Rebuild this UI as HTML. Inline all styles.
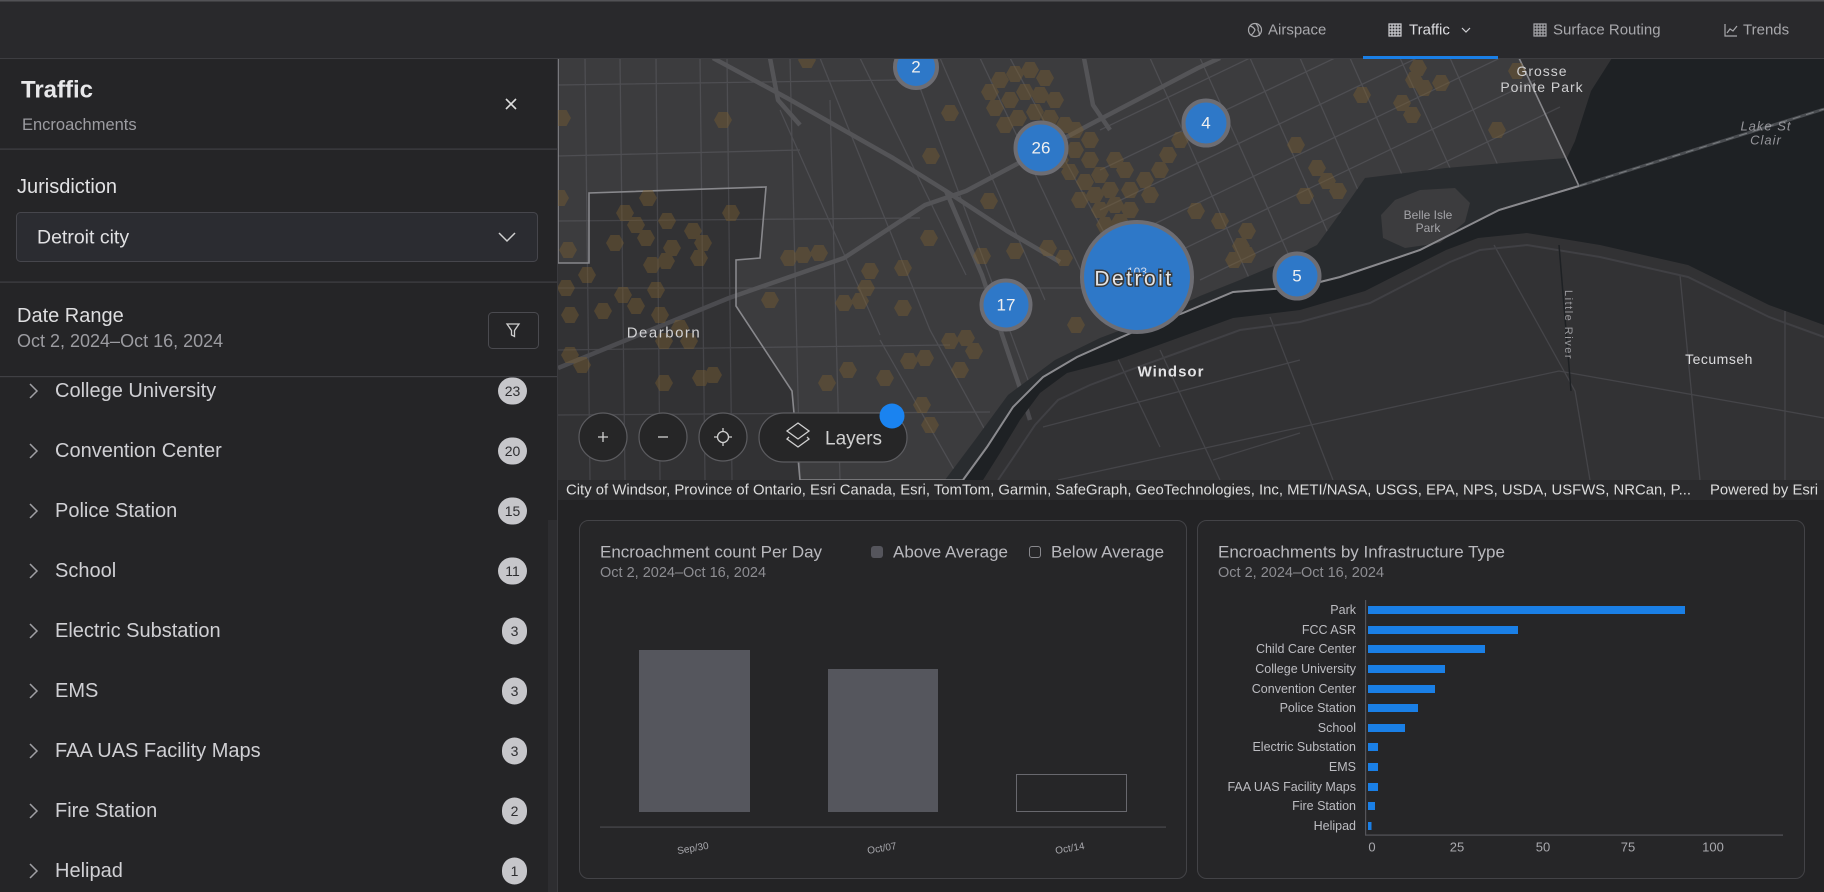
<!DOCTYPE html>
<html><head><meta charset="utf-8"><style>
*{margin:0;padding:0;box-sizing:border-box}
body{width:1824px;height:892px;overflow:hidden;background:#232325;font-family:"Liberation Sans",sans-serif;position:relative}
svg{position:absolute;left:0;top:0}
</style></head><body>
<svg width="1824" height="892" viewBox="0 0 1824 892" font-family="'Liberation Sans', sans-serif">
<defs>
<clipPath id="mc"><rect x="558" y="59" width="1266" height="421"/></clipPath>
<path id="hx" d="M-9,0 L-4.5,-8 L4.5,-8 L9,0 L4.5,8 L-4.5,8 Z"/>
</defs>
<rect width="1824" height="892" fill="#232325"/>
<!-- NAV -->
<rect x="0" y="0" width="1824" height="58" fill="#29292c"/>
<rect x="0" y="0" width="1824" height="1.5" fill="#525256"/>
<rect x="0" y="58" width="1824" height="1" fill="#3d3d41"/>
<g fill="none" stroke="#a8a8ac" stroke-width="1.2">
<circle cx="1255" cy="30" r="6.5"/>
<path d="M1250,26 Q1254,27 1255,30 Q1253,34 1251,35 M1256,24 Q1259,27 1258,30 Q1260,33 1259,36"/>
<path d="M1389,24 h12 v12 h-12 z M1392,24 v12 M1395,24 v12 M1398,24 v12 M1389,27 h12 M1389,30 h12 M1389,33 h12" stroke="#d0d0d4"/>
<path d="M1462,28 L1466,32 L1470,28" stroke="#d0d0d4"/>
<path d="M1534,24 h12 v12 h-12 z M1537,24 v12 M1540,24 v12 M1543,24 v12 M1534,27 h12 M1534,30 h12 M1534,33 h12"/>
<path d="M1725,24 V36 H1737 M1727,33 L1730,29 L1733,31 L1737,26"/>
</g>
<g font-size="15" fill="#a8a8ac" dominant-baseline="central">
<text x="1268" y="30">Airspace</text>
<text x="1409" y="30" fill="#dcdce0">Traffic</text>
<text x="1553" y="30">Surface Routing</text>
<text x="1743" y="30">Trends</text>
</g>
<rect x="1363" y="56" width="135" height="3" fill="#1a7fe6"/>

<!-- LEFT PANEL -->
<rect x="0" y="59" width="557" height="833" fill="#252527"/>
<rect x="557" y="59" width="1" height="833" fill="#3a3a3e"/>
<g dominant-baseline="central">
<text x="21" y="90" font-size="24" font-weight="bold" fill="#e8e8ea">Traffic</text>
<text x="22" y="125" font-size="16.5" fill="#9c9ca1">Encroachments</text>
<text x="17" y="187" font-size="20" fill="#e2e2e4">Jurisdiction</text>
<text x="17" y="316" font-size="20" fill="#dedee0">Date Range</text>
<text x="17" y="341" font-size="18" fill="#9c9ca1">Oct 2, 2024–Oct 16, 2024</text>
</g>
<path d="M506,99 L516,109 M516,99 L506,109" stroke="#dedede" stroke-width="1.6"/>
<rect x="0" y="148.5" width="557" height="1.2" fill="#404044"/>
<rect x="16.5" y="212.5" width="521" height="49" rx="4" fill="#2b2c31" stroke="#46464c"/>
<text x="37" y="237.5" font-size="19.5" fill="#e0e0e2" dominant-baseline="central">Detroit city</text>
<path d="M499,233 L507,241 L515,233" fill="none" stroke="#d0d0d0" stroke-width="1.5"/>
<rect x="0" y="281.5" width="557" height="1.2" fill="#404044"/>
<rect x="488.5" y="312.5" width="50" height="36" rx="4" fill="none" stroke="#4a4a4f"/>
<path d="M507,324 H519 L514.5,330.5 V336.5 L511.5,335 V330.5 Z" fill="none" stroke="#d0d0d0" stroke-width="1.3"/>
<rect x="0" y="376" width="557" height="1.2" fill="#404044"/>
<rect x="548" y="520" width="9" height="372" fill="#2d2d30"/>
<g fill="none" stroke="#a0a0a4" stroke-width="1.5">
<path d="M30,384 L37,391 L30,398"/><path d="M30,444 L37,451 L30,458"/><path d="M30,504 L37,511 L30,518"/>
<path d="M30,564 L37,571 L30,578"/><path d="M30,624 L37,631 L30,638"/><path d="M30,684 L37,691 L30,698"/>
<path d="M30,744 L37,751 L30,758"/><path d="M30,804 L37,811 L30,818"/><path d="M30,864 L37,871 L30,878"/>
</g>
<g font-size="20" fill="#d0d0d4" dominant-baseline="central">
<text x="55" y="391">College University</text>
<text x="55" y="451">Convention Center</text>
<text x="55" y="511">Police Station</text>
<text x="55" y="571">School</text>
<text x="55" y="631">Electric Substation</text>
<text x="55" y="691">EMS</text>
<text x="55" y="751">FAA UAS Facility Maps</text>
<text x="55" y="811">Fire Station</text>
<text x="55" y="871">Helipad</text>
</g>
<g fill="#c6c6ca">
<rect x="498" y="377.5" width="29" height="27" rx="13.5"/>
<rect x="498" y="437.5" width="29" height="27" rx="13.5"/>
<rect x="498" y="497.5" width="29" height="27" rx="13.5"/>
<rect x="498" y="557.5" width="29" height="27" rx="13.5"/>
<rect x="502" y="617.5" width="25" height="27" rx="12.5"/>
<rect x="502" y="677.5" width="25" height="27" rx="12.5"/>
<rect x="502" y="737.5" width="25" height="27" rx="12.5"/>
<rect x="502" y="797.5" width="25" height="27" rx="12.5"/>
<rect x="502" y="857.5" width="25" height="27" rx="12.5"/>
</g>
<g font-size="14" fill="#2d2d30" text-anchor="middle" dominant-baseline="central">
<text x="512.5" y="391">23</text><text x="512.5" y="451">20</text><text x="512.5" y="511">15</text><text x="512.5" y="571">11</text>
<text x="514.5" y="631">3</text><text x="514.5" y="691">3</text><text x="514.5" y="751">3</text><text x="514.5" y="811">2</text><text x="514.5" y="871">1</text>
</g>

<!-- MAP -->
<g clip-path="url(#mc)">
<rect x="558" y="59" width="1266" height="421" fill="#323234"/>
<g stroke="#454549" stroke-width="1.3" fill="none">
<path d="M585,58 L590,480 M620,58 L625,480 M656,58 L660,480 M700,58 L705,480 M727,58 L732,480 M790,58 L800,480 M830,100 L840,480
M558,85 L900,80 M558,156 L800,150 M558,221 L920,218 M558,288 L1100,288 M558,350 L950,345 M558,415 L990,412
M860,58 L966,275 M909,58 L1031,388 M940,58 L1045,300 M980,58 L1090,290 M1010,58 L1120,262 M820,58 L930,330 M780,110 L880,335 M880,340 L960,480 M930,330 L985,430
M1100,130 L1250,58 M1100,170 L1335,58 M1100,210 L1417,58 M1100,250 L1500,58 M1150,265 L1535,80 M1200,280 L1560,107
M1150,58 L1250,280 M1200,58 L1300,280 M1250,58 L1340,260 M1300,58 L1380,240 M1350,58 L1420,215 M1400,58 L1460,190 M1450,58 L1500,170
M1270,317 L1333,480 M1494,245 L1575,391 L1590,480 M1117,357 L1160,447 M1160,350 L1220,480 M1043,427 L1300,360 M1213,460 L1300,433 M1058,480 L1559,371 L1824,418 M1785,311 L1785,480 M1680,275 L1700,480"/>
</g>
<g stroke="#4b4b4f" stroke-width="4.5" fill="none" stroke-linejoin="round">
<path d="M713,58 L787,98 L893,158 L946,191 L1007,231 L1060,262"/>
<path d="M558,368 L729,298 L844,258 L925,205 L966,191 L1015,165 L1089,125 L1198,68 L1220,58"/>
<path d="M946,191 L982,275 L1020,388 L1030,420"/>
<path d="M1084,58 L1093,105 L1110,130"/>
<path d="M770,58 L778,100 L800,125"/>
</g>
<polygon fill="#1e2124" points="1612,58 1824,58 1824,325 1769,305 1688,265 1600,245 1527,233 1478,238 1446,250 1365,291 1300,310 1233,318 1167,342 1117,360 1067,373 1040,393 1020,420 1000,453 983,480 945,480 975,440 1008,395 1055,360 1100,338 1153,318 1200,296 1240,280 1283,262 1317,245 1349,201 1365,178 1446,168 1527,161 1567,158 1575,141 1591,91"/>
<polyline fill="none" stroke="#404044" stroke-width="2" points="998,480 1015,455 1035,425 1058,400 1090,385 1130,370 1180,352 1240,330 1300,322 1370,303 1450,262 1480,250 1527,245 1600,257 1688,277 1769,317 1824,337"/>
<path d="M1559,245 L1571,391" stroke="#1e2124" stroke-width="1.5"/>
<polygon fill="#323234" points="1381,215 1395,200 1420,190 1455,188 1470,203 1465,222 1440,243 1405,248 1383,238"/>
<polygon fill="#ffffff" fill-opacity="0.05" stroke="#88888c" stroke-width="1.6" points="558,58 1519,58 1579,186 1499,210 1420,250 1340,277 1300,287 1233,292 1183,313 1133,332 1077,357 1043,377 1013,407 987,447 963,480 800,480 792,391 736,306 736,260 760,258 766,187 589,193 589,263 558,263"/>
<path d="M1579,186 L1824,109" stroke="#4a4d51" stroke-width="3"/>
<path d="M1579,186 L1824,109" stroke="#7a7d80" stroke-width="1" stroke-dasharray="8 6"/>
<path d="M963,480 L987,447 L1013,407 L1043,377 L1077,357 L1133,332 L1183,313 L1233,292 L1300,287 L1340,277 L1420,250 L1499,210 L1579,186" fill="none" stroke="#8a8a8e" stroke-width="2"/>
<g opacity="0.42" fill="#7d6030">
<use href="#hx" x="562" y="118"/><use href="#hx" x="560" y="198"/><use href="#hx" x="568" y="250"/><use href="#hx" x="587" y="275"/><use href="#hx" x="566" y="288"/><use href="#hx" x="570" y="315"/><use href="#hx" x="603" y="311"/><use href="#hx" x="623" y="295"/><use href="#hx" x="636" y="306"/><use href="#hx" x="656" y="290"/><use href="#hx" x="660" y="315"/><use href="#hx" x="680" y="328"/><use href="#hx" x="689" y="341"/><use href="#hx" x="664" y="341"/><use href="#hx" x="570" y="355"/><use href="#hx" x="582" y="365"/><use href="#hx" x="701" y="378"/><use href="#hx" x="713" y="375"/><use href="#hx" x="664" y="383"/><use href="#hx" x="648" y="198"/><use href="#hx" x="625" y="213"/><use href="#hx" x="636" y="225"/><use href="#hx" x="646" y="238"/><use href="#hx" x="615" y="243"/><use href="#hx" x="667" y="221"/><use href="#hx" x="693" y="231"/><use href="#hx" x="703" y="243"/><use href="#hx" x="699" y="258"/><use href="#hx" x="672" y="248"/><use href="#hx" x="666" y="261"/><use href="#hx" x="652" y="265"/><use href="#hx" x="731" y="213"/><use href="#hx" x="723" y="120"/>
<use href="#hx" x="950" y="113"/><use href="#hx" x="931" y="156"/><use href="#hx" x="989" y="201"/><use href="#hx" x="929" y="238"/><use href="#hx" x="903" y="268"/><use href="#hx" x="870" y="271"/><use href="#hx" x="866" y="288"/><use href="#hx" x="860" y="301"/><use href="#hx" x="844" y="303"/><use href="#hx" x="770" y="300"/><use href="#hx" x="789" y="258"/><use href="#hx" x="803" y="255"/><use href="#hx" x="819" y="253"/><use href="#hx" x="903" y="308"/><use href="#hx" x="982" y="256"/><use href="#hx" x="1015" y="251"/><use href="#hx" x="1048" y="248"/><use href="#hx" x="1064" y="258"/><use href="#hx" x="1076" y="325"/><use href="#hx" x="950" y="341"/><use href="#hx" x="966" y="338"/><use href="#hx" x="974" y="351"/><use href="#hx" x="925" y="358"/><use href="#hx" x="909" y="361"/><use href="#hx" x="960" y="370"/><use href="#hx" x="848" y="370"/><use href="#hx" x="885" y="378"/><use href="#hx" x="827" y="383"/><use href="#hx" x="807" y="60"/><use href="#hx" x="922" y="405"/><use href="#hx" x="930" y="425"/>
<use href="#hx" x="990" y="92"/><use href="#hx" x="1000" y="80"/><use href="#hx" x="1015" y="74"/><use href="#hx" x="1030" y="70"/><use href="#hx" x="1045" y="78"/><use href="#hx" x="995" y="108"/><use href="#hx" x="1010" y="100"/><use href="#hx" x="1025" y="92"/><use href="#hx" x="1040" y="95"/><use href="#hx" x="1055" y="100"/><use href="#hx" x="1050" y="118"/><use href="#hx" x="1035" y="112"/><use href="#hx" x="1018" y="118"/><use href="#hx" x="1005" y="125"/><use href="#hx" x="1055" y="135"/><use href="#hx" x="1065" y="125"/>
<use href="#hx" x="1060" y="160"/><use href="#hx" x="1075" y="150"/><use href="#hx" x="1090" y="160"/><use href="#hx" x="1070" y="172"/><use href="#hx" x="1085" y="182"/><use href="#hx" x="1100" y="175"/><use href="#hx" x="1095" y="195"/><use href="#hx" x="1110" y="190"/><use href="#hx" x="1080" y="200"/><use href="#hx" x="1100" y="210"/><use href="#hx" x="1115" y="205"/><use href="#hx" x="1120" y="222"/><use href="#hx" x="1105" y="225"/><use href="#hx" x="1130" y="210"/><use href="#hx" x="1130" y="190"/><use href="#hx" x="1145" y="180"/><use href="#hx" x="1160" y="170"/><use href="#hx" x="1150" y="195"/><use href="#hx" x="1168" y="155"/><use href="#hx" x="1180" y="140"/><use href="#hx" x="1090" y="140"/><use href="#hx" x="1075" y="130"/><use href="#hx" x="1115" y="160"/><use href="#hx" x="1125" y="170"/>
<use href="#hx" x="1418" y="68"/><use href="#hx" x="1414" y="80"/><use href="#hx" x="1424" y="88"/><use href="#hx" x="1441" y="83"/><use href="#hx" x="1362" y="95"/><use href="#hx" x="1402" y="103"/><use href="#hx" x="1412" y="115"/><use href="#hx" x="1497" y="130"/><use href="#hx" x="1296" y="145"/><use href="#hx" x="1317" y="168"/><use href="#hx" x="1327" y="181"/><use href="#hx" x="1338" y="191"/><use href="#hx" x="1305" y="196"/><use href="#hx" x="1220" y="221"/><use href="#hx" x="1247" y="231"/><use href="#hx" x="1241" y="246"/><use href="#hx" x="1247" y="255"/><use href="#hx" x="1234" y="260"/><use href="#hx" x="1196" y="211"/><use href="#hx" x="1517" y="71"/>
</g>
<g fill="#2e78c8" stroke="#6d6d73" stroke-width="4">
<circle cx="916" cy="67" r="21"/>
<circle cx="1041" cy="148" r="25.5"/>
<circle cx="1206" cy="123" r="22.5"/>
<circle cx="1006" cy="305" r="24.5"/>
<circle cx="1297" cy="276" r="22.5"/>
<circle cx="1137" cy="277" r="55"/>
</g>
<g fill="#f0f0f0" font-size="17" text-anchor="middle" dominant-baseline="central">
<text x="916" y="67">2</text><text x="1041" y="148">26</text><text x="1206" y="123">4</text><text x="1006" y="305">17</text><text x="1297" y="276">5</text>
<text x="1137" y="272" font-size="12" fill="#cfd8e8">103</text>
</g>
<text x="1134" y="279" font-size="21" letter-spacing="2.5" fill="#e4e4e4" stroke="#3a3a3a" stroke-width="3" paint-order="stroke" text-anchor="middle" dominant-baseline="central">Detroit</text>
<g dominant-baseline="central" text-anchor="middle">
<text x="664" y="333" font-size="15" letter-spacing="1.5" fill="#d2d2d4">Dearborn</text>
<text x="1171" y="372" font-size="15" font-weight="bold" letter-spacing="1" fill="#e2e2e4">Windsor</text>
<text x="1719" y="359" font-size="14" letter-spacing="0.5" fill="#dcdcde">Tecumseh</text>
<text x="1542" y="71" font-size="14" letter-spacing="1" fill="#cfcfd1">Grosse</text>
<text x="1542" y="87" font-size="14" letter-spacing="1" fill="#cfcfd1">Pointe Park</text>
<text x="1766" y="126" font-size="13" font-style="italic" letter-spacing="1" fill="#95959a">Lake St</text>
<text x="1766" y="140" font-size="13" font-style="italic" letter-spacing="1" fill="#95959a">Clair</text>
<text x="1428" y="215" font-size="12" fill="#a4a4a8">Belle Isle</text>
<text x="1428" y="228" font-size="12" fill="#a4a4a8">Park</text>
<text transform="translate(1568,325) rotate(90)" font-size="11" letter-spacing="1.5" fill="#9a9a9e">Little River</text>
</g>
<g fill="#262627" stroke="#5c5c60" stroke-width="1.2">
<circle cx="603" cy="437" r="24"/><circle cx="663" cy="437" r="24"/><circle cx="723" cy="437" r="24"/>
<rect x="759" y="413" width="148" height="49" rx="24.5"/>
</g>
<g stroke="#d0d0d0" stroke-width="1.3" fill="none">
<path d="M598,437 H608 M603,432 V442"/>
<path d="M658,437 H668"/>
<circle cx="723" cy="437" r="5.5"/>
<path d="M723,428 V431.5 M723,442.5 V446 M714,437 H717.5 M728.5,437 H732"/>
<path d="M798,423 L809,431 L798,439 L787,431 Z"/>
<path d="M789,437 L787,439 L798,447 L809,439 L807,437"/>
</g>
<text x="825" y="439" font-size="19" fill="#d0d0d0" dominant-baseline="central">Layers</text>
<circle cx="892" cy="416" r="12.5" fill="#1a83f0"/>
</g>
<!-- attribution -->
<rect x="558" y="480" width="1266" height="20" fill="#2b2b2d"/>
<text x="566" y="490.5" font-size="14.5" fill="#dcdcdc" textLength="1125" lengthAdjust="spacingAndGlyphs" dominant-baseline="central">City of Windsor, Province of Ontario, Esri Canada, Esri, TomTom, Garmin, SafeGraph, GeoTechnologies, Inc, METI/NASA, USGS, EPA, NPS, USDA, USFWS, NRCan, P...</text>
<text x="1710" y="490.5" font-size="14.5" fill="#dcdcdc" textLength="108" lengthAdjust="spacingAndGlyphs" dominant-baseline="central">Powered by Esri</text>

<!-- CARD 1 -->
<rect x="579.5" y="520.5" width="607" height="358" rx="9" fill="#262628" stroke="#434347"/>
<g dominant-baseline="central">
<text x="600" y="552" font-size="17" fill="#b9b9be">Encroachment count Per Day</text>
<text x="600" y="573" font-size="14.5" fill="#8d8d92">Oct 2, 2024–Oct 16, 2024</text>
<text x="893" y="552" font-size="17" fill="#b9b9be">Above Average</text>
<text x="1051" y="552" font-size="17" fill="#b9b9be">Below Average</text>
</g>
<rect x="871" y="546" width="12" height="12" rx="3" fill="#55555c"/>
<rect x="1029.5" y="546.5" width="11" height="11" rx="2.5" fill="none" stroke="#88888d"/>
<rect x="639" y="650" width="111" height="162" fill="#55565d"/>
<rect x="828" y="669" width="110" height="143" fill="#55565d"/>
<rect x="1016.5" y="774.5" width="110" height="37" fill="none" stroke="#68686e"/>
<rect x="600" y="826.5" width="566" height="1.2" fill="#4a4a4e"/>
<g font-size="10" fill="#a9a9ae" text-anchor="middle" dominant-baseline="central">
<text transform="translate(693,849) rotate(-10)">Sep/30</text>
<text transform="translate(882,849) rotate(-10)">Oct/07</text>
<text transform="translate(1070,849) rotate(-10)">Oct/14</text>
</g>

<!-- CARD 2 -->
<rect x="1197.5" y="520.5" width="607" height="358" rx="9" fill="#262628" stroke="#434347"/>
<g dominant-baseline="central">
<text x="1218" y="552" font-size="17" fill="#b9b9be">Encroachments by Infrastructure Type</text>
<text x="1218" y="573" font-size="14.5" fill="#8d8d92">Oct 2, 2024–Oct 16, 2024</text>
</g>
<rect x="1365" y="600" width="1.2" height="235" fill="#55555a"/>
<rect x="1365" y="834.5" width="418" height="1.2" fill="#55555a"/>
<g fill="#1a7fe6">
<rect x="1368" y="606" width="317" height="8"/>
<rect x="1368" y="626" width="150" height="8"/>
<rect x="1368" y="645" width="117" height="8"/>
<rect x="1368" y="665" width="77" height="8"/>
<rect x="1368" y="685" width="67" height="8"/>
<rect x="1368" y="704" width="50" height="8"/>
<rect x="1368" y="724" width="37" height="8"/>
<rect x="1368" y="743" width="10" height="8"/>
<rect x="1368" y="763" width="10" height="8"/>
<rect x="1368" y="783" width="10" height="8"/>
<rect x="1368" y="802" width="7" height="8"/>
<rect x="1368" y="822" width="3.5" height="8"/>
</g>
<g font-size="12.5" fill="#bdbdc2" text-anchor="end" dominant-baseline="central">
<text x="1356" y="610">Park</text>
<text x="1356" y="630">FCC ASR</text>
<text x="1356" y="649">Child Care Center</text>
<text x="1356" y="669">College University</text>
<text x="1356" y="689">Convention Center</text>
<text x="1356" y="708">Police Station</text>
<text x="1356" y="728">School</text>
<text x="1356" y="747">Electric Substation</text>
<text x="1356" y="767">EMS</text>
<text x="1356" y="787">FAA UAS Facility Maps</text>
<text x="1356" y="806">Fire Station</text>
<text x="1356" y="826">Helipad</text>
</g>
<g font-size="13" fill="#a9a9ae" text-anchor="middle" dominant-baseline="central">
<text x="1372" y="847">0</text><text x="1457" y="847">25</text><text x="1543" y="847">50</text><text x="1628" y="847">75</text><text x="1713" y="847">100</text>
</g>
</svg>
</body></html>
